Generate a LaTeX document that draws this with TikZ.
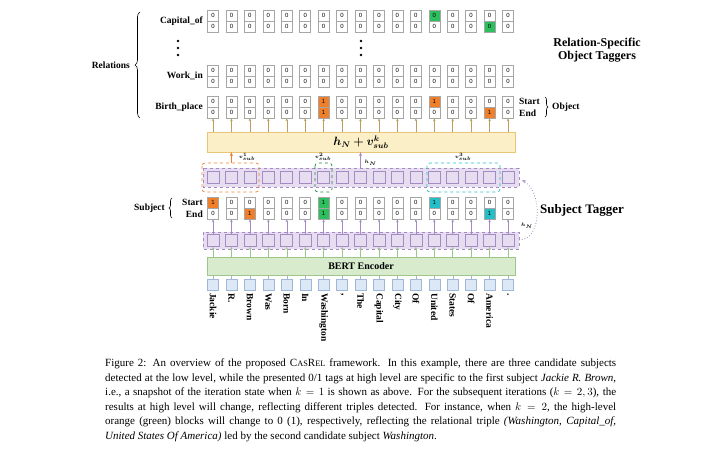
\documentclass[tikz,border=0pt]{standalone}
\usepackage{amsmath,bm}
\usepackage{fontspec}
\setmainfont{Liberation Serif}
\newfontfamily\cellfont{Liberation Sans}
\usetikzlibrary{decorations.pathreplacing,arrows.meta}
\definecolor{cor}{HTML}{F07F2B}
\definecolor{cgr}{HTML}{2DBE5E}
\definecolor{ccy}{HTML}{22BFC8}
\definecolor{pfill}{HTML}{E6DDF0}
\definecolor{pline}{HTML}{A58BC4}
\definecolor{yfill}{HTML}{FBEFC7}
\definecolor{yline}{HTML}{E9C675}
\definecolor{gfill}{HTML}{D8ECCD}
\definecolor{gline}{HTML}{9CC68A}
\definecolor{tfill}{HTML}{DCE8F6}
\definecolor{tline}{HTML}{9FB8D8}
\tikzset{
  cellbox/.style={draw=gray!70,line width=0.5pt,minimum width=11pt,minimum height=11pt,inner sep=0pt,font=\cellfont\fontsize{6}{6}\selectfont},
  lbl/.style={font=\bfseries\fontsize{9.5}{10}\selectfont,inner sep=0pt},
  sq/.style={draw=pline,line width=0.6pt,minimum size=12pt,inner sep=0pt},
  prow/.style={draw=pline,dashed,fill=pfill,line width=0.6pt},
  smarrow/.style={-{Stealth[length=3pt,width=2.5pt]},line width=0.5pt},
}
\newcommand{\cx}[1]{213+18.44*(#1-1)}
\newcommand{\fsc}[1]{{\fontsize{8.3}{10}\selectfont\MakeUppercase{#1}}}
\begin{document}
\begin{tikzpicture}[x=1pt,y=-1pt]
\useasboundingbox (0,0) rectangle (720,453);
\foreach \r/\y in {cap/10,work/65,birth/96,subj/197}{
  \foreach \i in {1,...,17}{
    \node[cellbox] (\r s\i) at ({\cx{\i}},\y+5.5) {0};
    \node[cellbox] (\r e\i) at ({\cx{\i}},\y+16.5) {0};
  }
}
\foreach \r/\p/\i/\c/\v in {cap/s/13/cgr/0,cap/e/16/cgr/0,birth/s/7/cor/1,birth/e/7/cor/1,birth/s/13/cor/1,birth/e/16/cor/1,
  subj/s/1/cor/1,subj/e/3/cor/1,subj/s/7/cgr/1,subj/e/7/cgr/1,subj/s/13/ccy/1,subj/e/16/ccy/1}{
  \node[cellbox,fill=\c] at (\r\p\i) {\v};
}
\node[lbl,anchor=east] (lcap) at (203,21) {Capital\_of};
\node[lbl,anchor=east] (lwork) at (203,76) {Work\_in};
\node[lbl,anchor=east] (lbirth) at (203,107) {Birth\_place};
\foreach \yy in {41,48,55}{\fill (178,\yy) circle (1.4pt); \fill (361,\yy) circle (1.4pt);}
\draw[decorate,decoration={brace,amplitude=5pt},line width=0.6pt] (140,118) -- (140,12);
\node[lbl,anchor=east] (rel) at (130,65) {Relations};
\node[lbl,anchor=west] (ost) at (519,101) {Start};
\node[lbl,anchor=west] (oen) at (519,113) {End};
\draw[decorate,decoration={brace,amplitude=3pt},line width=0.6pt] (545,97) -- (545,117);
\node[lbl,anchor=west] (obj) at (552,107) {Object};
\node[lbl,font=\bfseries\fontsize{12}{13}\selectfont,align=center] (rsot) at (597,50) {Relation-Specific\\Object Taggers};
\node[draw=yline,fill=yfill,minimum width=308pt,minimum height=20pt,inner sep=0pt] (hsum) at (361,142) {\fontsize{12}{13}\selectfont $\bm{h_N+v^k_{sub}}$};
\foreach \i in {1,...,17}{\draw[smarrow,yline!80!black] ({\cx{\i}},132) -- (birthe\i.south);}
\draw[prow] (203,168) rectangle (519,187);
\foreach \i in {1,...,17}{\node[sq] (u\i) at ({\cx{\i}},177.5) {};}
\draw[prow] (203,232) rectangle (519,249);
\foreach \i in {1,...,17}{\node[sq] (l\i) at ({\cx{\i}},240.5) {};
  \draw[smarrow,pline] (l\i.north) -- (subje\i.south);}
\draw[cor,dashed,rounded corners=3pt,line width=0.7pt] (202,163) rectangle (259,192);
\draw[cgr!70!black,dashed,rounded corners=3pt,line width=0.7pt] (315,163) rectangle (332,192);
\draw[ccy,dashed,rounded corners=3pt,line width=0.7pt] (427,163) rectangle (500,192);
\node[font=\fontsize{5.5}{6}\selectfont,inner sep=0pt] (v1) at (247,157) {$\bm{v^1_{sub}}$};
\node[font=\fontsize{5.5}{6}\selectfont,inner sep=0pt] (v2) at (323,157) {$\bm{v^2_{sub}}$};
\node[font=\fontsize{5.5}{6}\selectfont,inner sep=0pt] (v3) at (463,157) {$\bm{v^3_{sub}}$};
\draw[-{Stealth[length=4pt]},cor,line width=1pt] ({\cx{2}},163) -- ({\cx{2}},152);
\draw[-{Stealth[length=4pt]},pline,line width=1pt] ({\cx{9}},168) -- ({\cx{9}},152);
\node[font=\fontsize{5.5}{6}\selectfont,anchor=west,inner sep=0pt] (hn1) at ({\cx{9}+4},163) {$\bm{h_N}$};
\draw[-{Stealth[length=4pt]},pline,dotted,line width=0.8pt] (519,240) to[out=0,in=-30] (522,180);
\node[font=\fontsize{5.5}{6}\selectfont] (hn2) at (527,226) {$\bm{h_N}$};
\node[lbl,anchor=east] (sst) at (203,202) {Start};
\node[lbl,anchor=east] (sen) at (203,214) {End};
\draw[decorate,decoration={brace,amplitude=3pt},line width=0.6pt] (172,218) -- (172,198);
\node[lbl,anchor=east] (subj) at (165,208) {Subject};
\node[font=\bfseries\fontsize{13}{14}\selectfont] (stag) at (582,210) {Subject Tagger};
\node[draw=gline,fill=gfill,minimum width=308pt,minimum height=18pt,inner sep=0pt,font=\bfseries\fontsize{10}{11}\selectfont] (bert) at (361,266) {BERT Encoder};
\foreach [count=\i] \w in {Jackie,R.,Brown,Was,Born,In,Washington,{,},The,Capital,City,Of,United,States,Of,America,.}{
  \draw[smarrow,gline] ({\cx{\i}},257) -- (l\i.south);
  \node[draw=tline,fill=tfill,minimum size=11pt,inner sep=0pt] (t\i) at ({\cx{\i}},284.5) {};
  \draw[gray!60,line width=0.4pt] (t\i.north) -- ({\cx{\i}},275);
  \node[lbl,rotate=-90,anchor=west] (w\i) at ({\cx{\i}},293) {\w};
}
\node[anchor=north west,text width=511pt,inner sep=0pt,align=justify,font=\fontsize{11}{14.5}\selectfont] (cap) at (105,359) {Figure 2: An overview of the proposed C\fsc{as}R\fsc{el} framework. In this example, there are three candidate subjects\linebreak detected at the low level, while the presented 0/1 tags at high level are specific to the first subject \textit{Jackie R. Brown},\linebreak i.e., a snapshot of the iteration state when $k=1$ is shown as above. For the subsequent iterations ($k=2,3$), the\linebreak results at high level will change, reflecting different triples detected. For instance, when $k=2$, the high-level\linebreak orange (green) blocks will change to 0 (1), respectively, reflecting the relational triple \textit{(Washington, Capital\_of,}\linebreak \textit{United States Of America)} led by the second candidate subject \textit{Washington}.};
\end{tikzpicture}
\end{document}
